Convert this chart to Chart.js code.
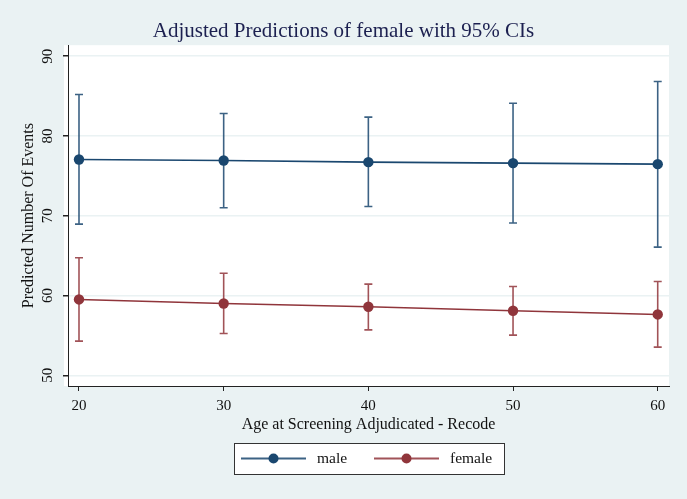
<!DOCTYPE html>
<html><head><meta charset="utf-8">
<script src="https://cdn.jsdelivr.net/npm/chart.js@4"></script>
<style>html,body{margin:0;padding:0;background:#eaf2f3;overflow:hidden}#wrap{width:687px;height:499px;position:relative}</style>
</head><body><div id="wrap"><canvas id="c"></canvas></div>
<script>
const ages = [20, 30, 40, 50, 60];
const maleMean = [77.05, 76.93, 76.72, 76.60, 76.47];
const maleLow = [68.95, 71.00, 71.16, 69.10, 66.07];
const maleHigh = [85.20, 82.82, 82.36, 84.10, 86.83];
const femaleMean = [59.51, 59.00, 58.59, 58.09, 57.63];
const femaleLow = [54.29, 55.25, 55.70, 55.04, 53.53];
const femaleHigh = [64.73, 62.80, 61.43, 61.14, 61.76];
const yTicks = [50, 60, 70, 80, 90];
const xTicks = [20, 30, 40, 50, 60];
const seriesNames = ['male', 'female'];
const titleText = 'Adjusted Predictions of female with 95% CIs';
const xTitle = 'Age at Screening Adjudicated - Recode';
const yTitle = 'Predicted Number Of Events';

const MALE = '#1a476f', FEMALE = '#90353b';
const FONT = "'Liberation Serif', 'DejaVu Serif', serif";
const lows = [maleLow, femaleLow], highs = [maleHigh, femaleHigh];

const stataPlugin = {
  id: 'stata',
  beforeDraw(chart) {
    const {ctx, chartArea: a} = chart;
    ctx.save();
    ctx.fillStyle = '#eaf2f3';
    ctx.fillRect(0, 0, chart.width, chart.height);
    ctx.fillStyle = '#ffffff';
    ctx.fillRect(a.left - 4, a.top, a.right - a.left + 4, a.bottom - a.top);
    ctx.restore();
  },
  beforeDatasetsDraw(chart) {
    const {ctx, scales: {x, y}} = chart;
    ctx.save();
    chart.data.datasets.forEach((ds, i) => {
      ctx.strokeStyle = ds.borderColor;
      ctx.globalAlpha = 0.85;
      ctx.lineWidth = 1.6;
      ages.forEach((a, j) => {
        const px = x.getPixelForValue(a);
        const yl = y.getPixelForValue(lows[i][j]);
        const yh = y.getPixelForValue(highs[i][j]);
        ctx.beginPath();
        ctx.moveTo(px, yl); ctx.lineTo(px, yh);
        ctx.moveTo(px - 4, yl); ctx.lineTo(px + 4, yl);
        ctx.moveTo(px - 4, yh); ctx.lineTo(px + 4, yh);
        ctx.stroke();
      });
    });
    ctx.restore();
  },
  afterDraw(chart) {
    const {ctx, scales: {y}} = chart;
    ctx.save();
    ctx.fillStyle = '#111';
    ctx.font = '15px ' + FONT;
    ctx.textAlign = 'center';
    ctx.textBaseline = 'middle';
    yTicks.forEach(v => {
      ctx.save();
      ctx.translate(48.5, y.getPixelForValue(v));
      ctx.rotate(-Math.PI / 2);
      ctx.fillText(String(v), 0, 0);
      ctx.restore();
    });
    // legend
    const bx = 234, by = 443, bw = 270, bh = 31;
    ctx.fillStyle = '#ffffff';
    ctx.fillRect(bx, by, bw, bh);
    ctx.strokeStyle = '#333';
    ctx.lineWidth = 1;
    ctx.strokeRect(bx + 0.5, by + 0.5, bw, bh);
    const cy = by + bh / 2;
    const items = [{x0: 241, tx: 317}, {x0: 374, tx: 450}];
    chart.data.datasets.forEach((ds, i) => {
      const it = items[i];
      ctx.strokeStyle = ds.borderColor;
      ctx.globalAlpha = 0.85;
      ctx.lineWidth = 1.8;
      ctx.beginPath(); ctx.moveTo(it.x0, cy); ctx.lineTo(it.x0 + 65, cy); ctx.stroke();
      ctx.globalAlpha = 1;
      ctx.fillStyle = ds.borderColor;
      ctx.beginPath(); ctx.arc(it.x0 + 32.5, cy, 5, 0, Math.PI * 2); ctx.fill();
      ctx.fillStyle = '#111';
      ctx.textAlign = 'left';
      ctx.textBaseline = 'middle';
      ctx.font = '15.5px ' + FONT;
      ctx.fillText(ds.label, it.tx, cy);
    });
    ctx.restore();
  }
};

new Chart(document.getElementById('c'), {
  type: 'line',
  data: {
    datasets: [
      {label: seriesNames[0], data: ages.map((a, i) => ({x: a, y: maleMean[i]})),
       borderColor: MALE, backgroundColor: MALE, borderWidth: 1.6, pointRadius: 5.2, pointBackgroundColor: MALE, pointBorderWidth: 0, tension: 0},
      {label: seriesNames[1], data: ages.map((a, i) => ({x: a, y: femaleMean[i]})),
       borderColor: FEMALE, backgroundColor: FEMALE, borderWidth: 1.6, pointRadius: 5.2, pointBackgroundColor: FEMALE, pointBorderWidth: 0, tension: 0}
    ]
  },
  options: {
    responsive: true, maintainAspectRatio: false, animation: false,
    layout: {padding: {top: 0, right: 18, bottom: 0, left: 18}},
    plugins: {
      legend: {display: false}, tooltip: {enabled: false},
      title: {display: true, text: titleText, color: '#1c2050',
              font: {family: FONT, size: 21, weight: 'normal'}, padding: {top: 19, bottom: 1}}
    },
    scales: {
      x: {
        type: 'linear', min: 19.24, max: 60.78,
        afterBuildTicks: s => { s.ticks = xTicks.map(v => ({value: v})); },
        afterFit: s => { s.height = 113; },
        grid: {drawOnChartArea: false, drawTicks: true, tickLength: 5, tickColor: '#222', lineWidth: 1},
        border: {display: true, color: '#222', width: 1},
        ticks: {color: '#111', font: {family: FONT, size: 15}, padding: 6, maxRotation: 0},
        title: {display: true, text: xTitle, color: '#111', font: {family: FONT, size: 16}, padding: {top: 0, bottom: 65}}
      },
      y: {
        type: 'linear', min: 48.66, max: 91.38,
        afterBuildTicks: s => { s.ticks = yTicks.map(v => ({value: v})); },
        afterFit: s => { s.width = 50; },
        grid: {color: '#eaf2f3', lineWidth: 1.5, drawTicks: true, tickLength: 5, tickColor: '#222'},
        border: {display: true, color: '#222', width: 1},
        ticks: {display: false},
        title: {display: true, text: yTitle, color: '#111', font: {family: FONT, size: 16}, padding: {top: 1, bottom: 0}}
      }
    }
  },
  plugins: [stataPlugin]
});
</script></body></html>
